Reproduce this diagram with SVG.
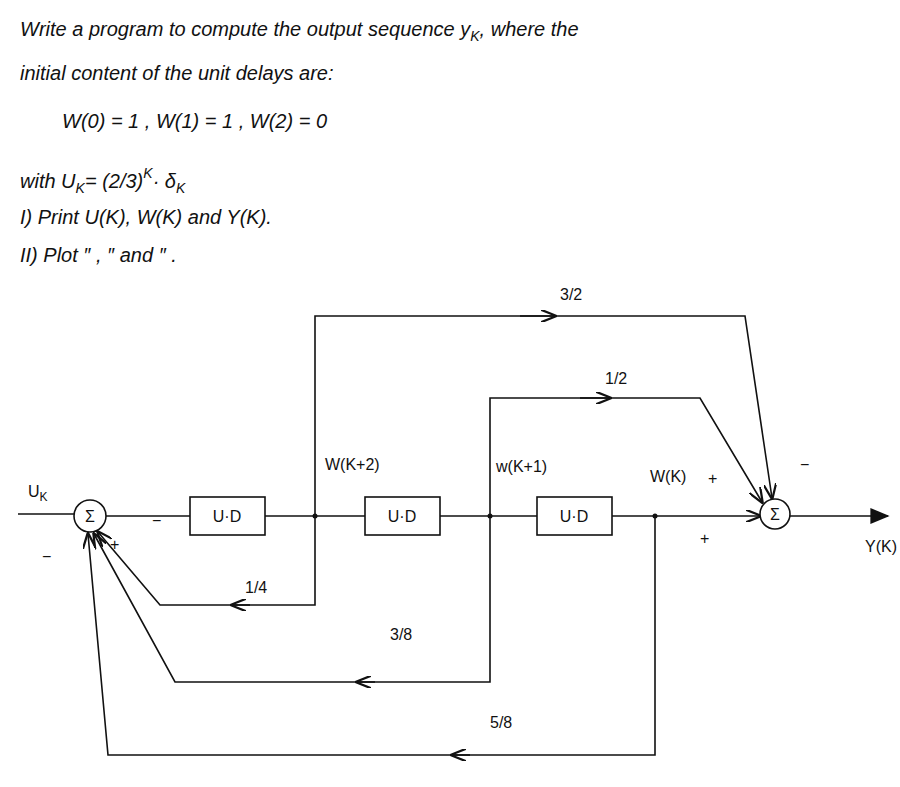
<svg xmlns="http://www.w3.org/2000/svg" width="900" height="787" viewBox="0 0 900 787">
<style>
.t{font-family:"Liberation Sans",sans-serif;font-size:20px;fill:#111;font-style:italic}
.l{font-family:"Liberation Sans",sans-serif;font-size:16px;fill:#111}
.w{stroke:#111;stroke-width:1.6;fill:none}
.b{stroke:#111;stroke-width:1.6;fill:#fff}
</style>
<defs><marker id="a" markerWidth="10" markerHeight="8" refX="9" refY="4" orient="auto"><path d="M0,0 L10,4 L0,8" fill="none" stroke="#111" stroke-width="1.4"/></marker>
<marker id="f" markerWidth="12" markerHeight="10" refX="11" refY="5" orient="auto"><path d="M0,0 L12,5 L0,10z" fill="#111"/></marker></defs>
<rect width="900" height="787" fill="#fff"/>
<g id="text">
<text class="t" x="20" y="36">Write a program to compute the output sequence y<tspan font-size="14" dy="5">K</tspan><tspan dy="-5">, where the</tspan></text>
<text class="t" x="20" y="80">initial content of the unit delays are:</text>
<text class="t" x="62" y="128">W(0) = 1 ,  W(1) = 1 ,  W(2) = 0</text>
<text class="t" x="20" y="188">with  U<tspan font-size="14" dy="5">K</tspan><tspan dy="-5">= (2/3)</tspan><tspan font-size="14" dy="-10">K</tspan><tspan dy="10">· δ</tspan><tspan font-size="14" dy="5">K</tspan></text>
<text class="t" x="20" y="224">I) Print U(K), W(K) and Y(K).</text>
<text class="t" x="20" y="262">II) Plot     ″  ,  ″    and  ″  .</text>
</g>
<g id="connectors" class="w">
<line x1="18" y1="514" x2="74" y2="514"/>
<line x1="106" y1="516" x2="190" y2="516"/>
<line x1="265" y1="516" x2="365" y2="516"/>
<line x1="440" y1="516" x2="537" y2="516"/>
<line x1="612" y1="516" x2="760" y2="516" marker-end="url(#a)"/>
<line x1="790" y1="516" x2="888" y2="516" marker-end="url(#f)"/>
<polyline points="315,516 315,316 745,316 772,498" marker-end="url(#a)"/>
<line x1="520" y1="316" x2="555" y2="316" marker-end="url(#a)"/>
<polyline points="490,516 490,398 700,398 762,502" marker-end="url(#a)"/>
<line x1="580" y1="398" x2="610" y2="398" marker-end="url(#a)"/>
<polyline points="315,516 315,605 160,605 98,532" marker-end="url(#a)"/>
<line x1="250" y1="605" x2="232" y2="605" marker-end="url(#a)"/>
<polyline points="490,516 490,682 175,682 94,534" marker-end="url(#a)"/>
<line x1="375" y1="682" x2="357" y2="682" marker-end="url(#a)"/>
<polyline points="655,516 655,755 108,755 88,534" marker-end="url(#a)"/>
<line x1="470" y1="755" x2="452" y2="755" marker-end="url(#a)"/>
</g>
<circle cx="315" cy="516" r="2.5" fill="#111"/><circle cx="490" cy="516" r="2.5" fill="#111"/><circle cx="655" cy="516" r="2.5" fill="#111"/>
<g id="sum1"><circle class="b" cx="90" cy="516" r="16"/><text class="l" x="90" y="522" text-anchor="middle">Σ</text></g>
<g id="sum2"><circle class="b" cx="775" cy="514" r="15"/><text class="l" x="775" y="520" text-anchor="middle">Σ</text></g>
<g id="ud1"><rect class="b" x="190" y="497" width="75" height="38"/><text class="l" x="227" y="522" text-anchor="middle">U·D</text></g>
<g id="ud2"><rect class="b" x="365" y="497" width="75" height="38"/><text class="l" x="402" y="522" text-anchor="middle">U·D</text></g>
<g id="ud3"><rect class="b" x="537" y="497" width="75" height="38"/><text class="l" x="574" y="522" text-anchor="middle">U·D</text></g>
<g id="labels" class="l">
<text x="28" y="497">U<tspan font-size="12" dy="4">K</tspan></text>
<text x="325" y="470">W(K+2)</text><text x="496" y="472">w(K+1)</text><text x="650" y="482">W(K)</text>
<text x="865" y="552">Y(K)</text>
<text x="560" y="300">3/2</text><text x="605" y="384">1/2</text>
<text x="245" y="593">1/4</text><text x="390" y="640">3/8</text><text x="490" y="728">5/8</text>
<text x="708" y="484">+</text><text x="700" y="544">+</text><text x="800" y="470">−</text>
<text x="152" y="526">−</text><text x="110" y="550">+</text><text x="42" y="562">−</text>
</g>
</svg>
